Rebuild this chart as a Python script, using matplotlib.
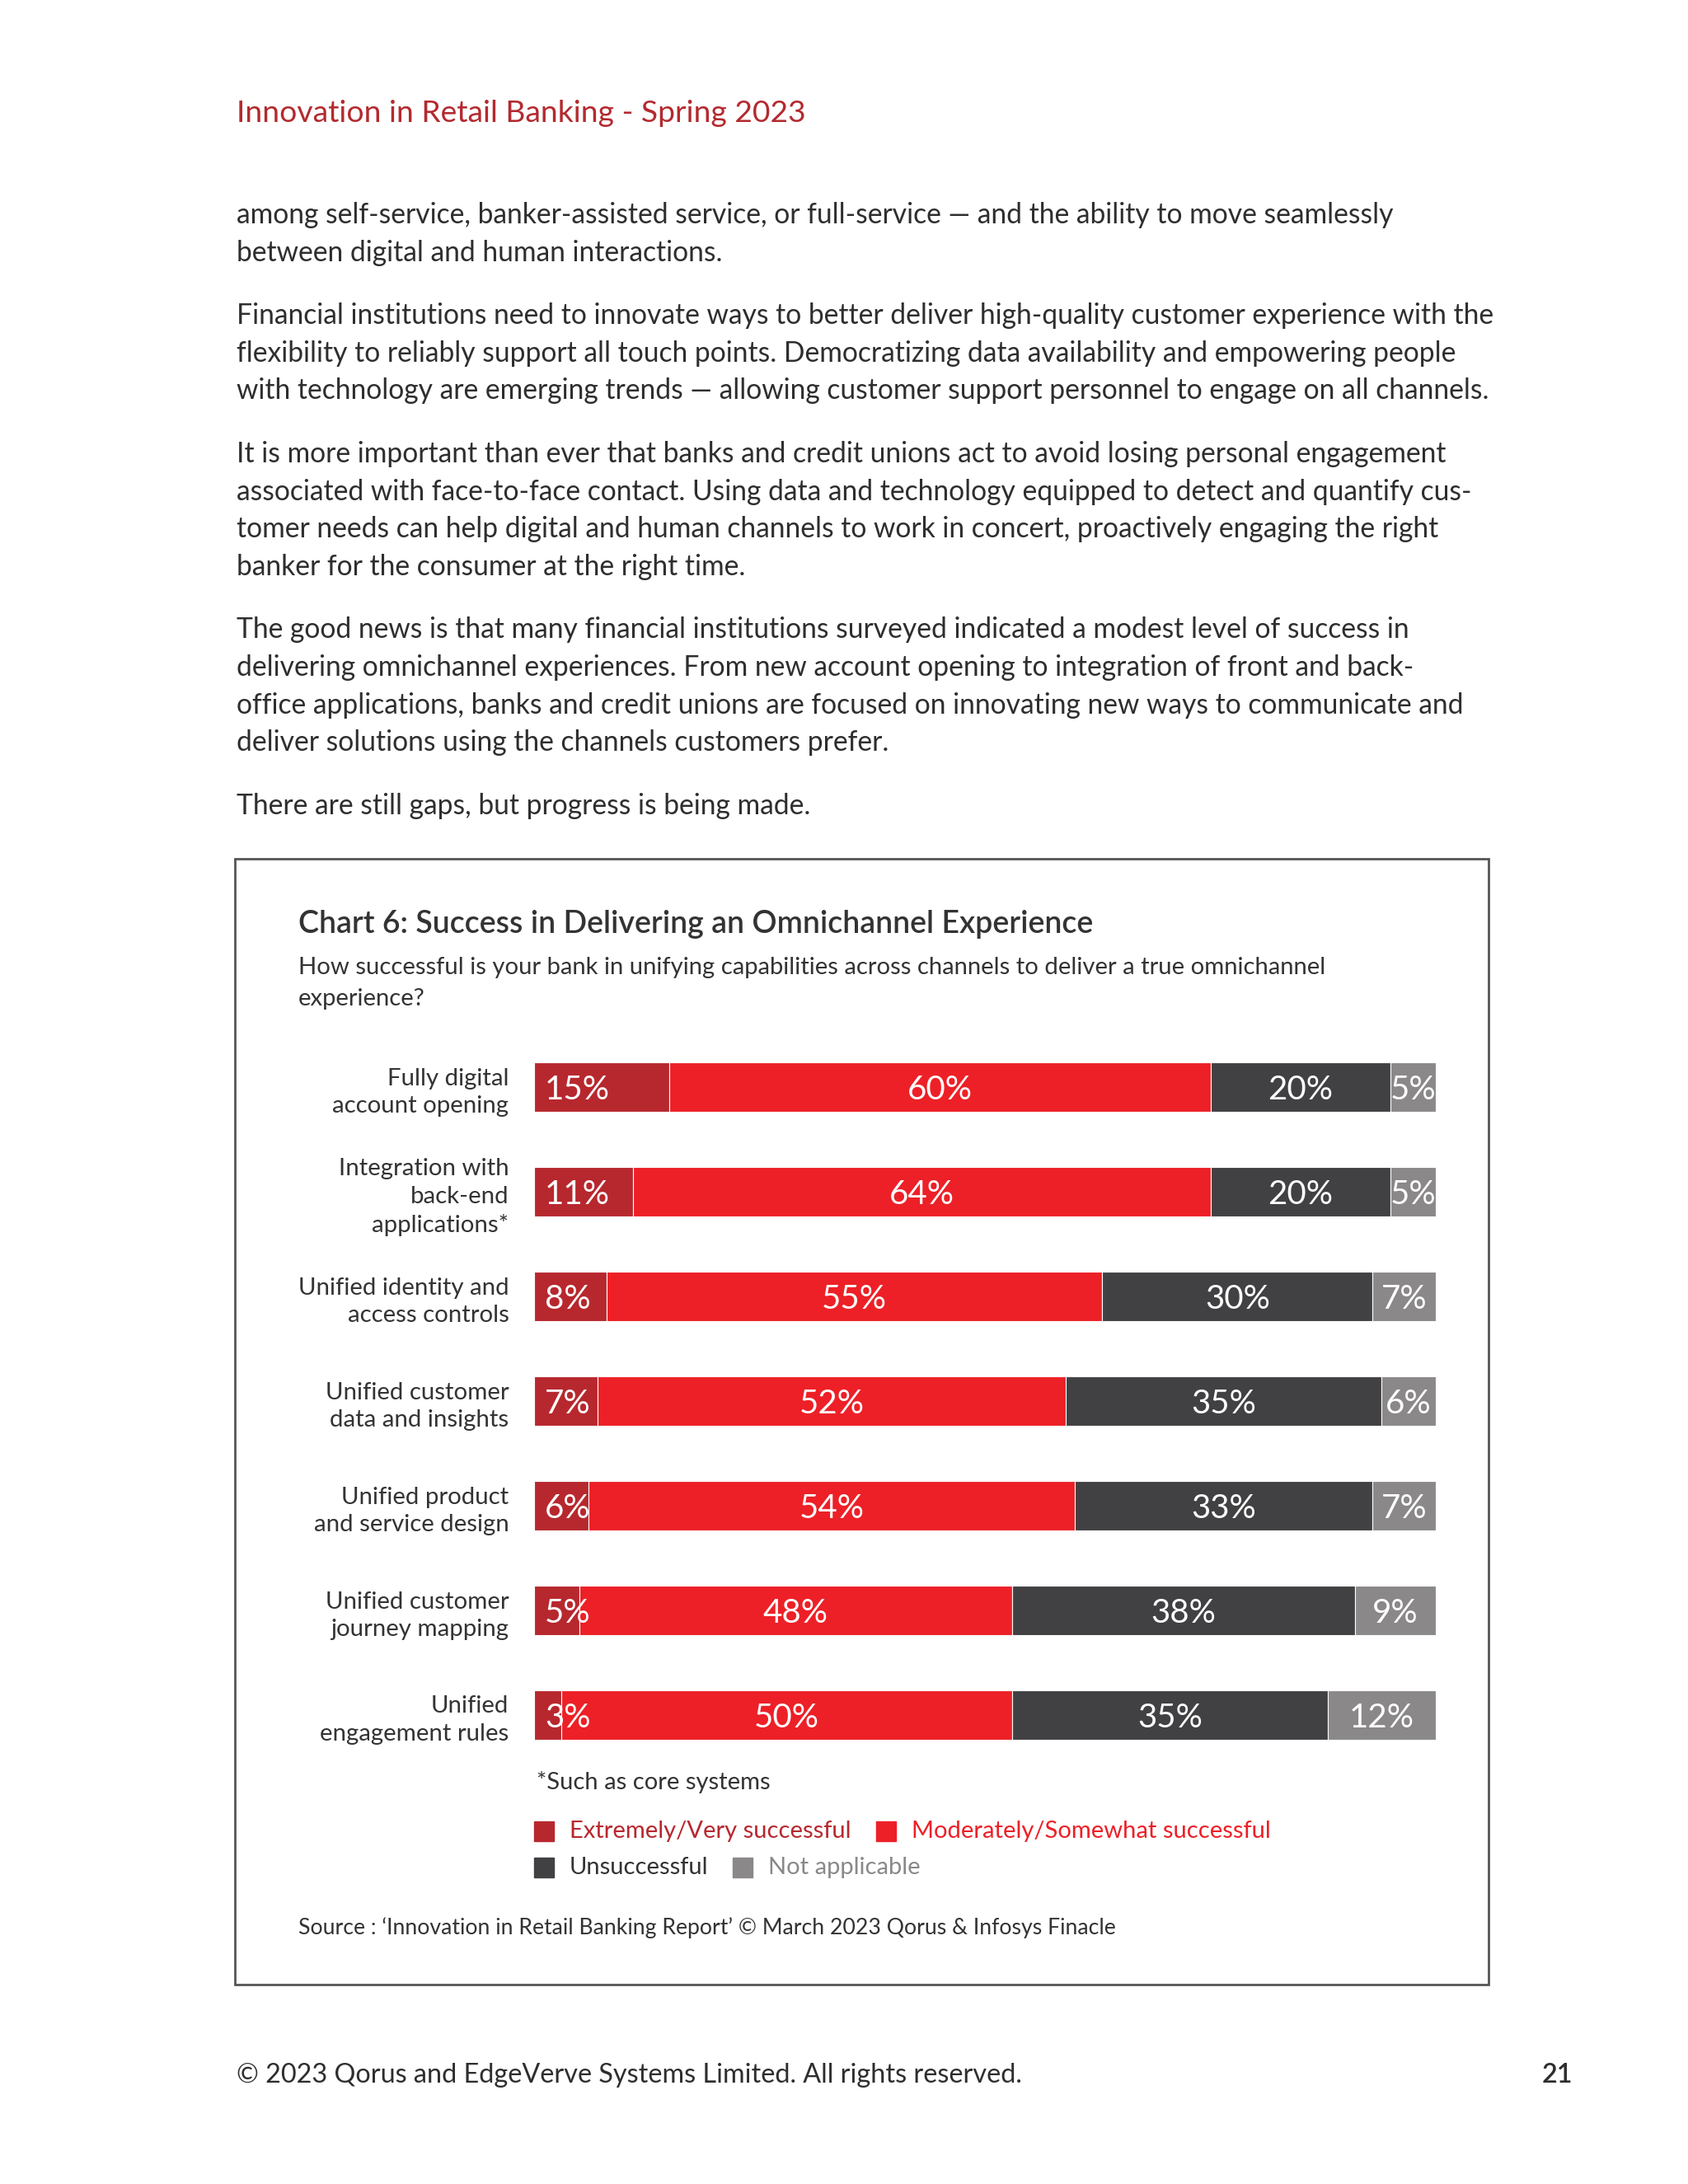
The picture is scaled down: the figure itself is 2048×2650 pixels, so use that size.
import numpy as np
import matplotlib.pyplot as plt
import matplotlib.patches as mpatches

# ---- data
categories = ['Fully digital\naccount opening',
              'Integration with\nback-end\napplications*',
              'Unified identity and\naccess controls',
              'Unified customer\ndata and insights',
              'Unified product\nand service design',
              'Unified customer\njourney mapping',
              'Unified\nengagement rules']
extremely = [15, 11, 8, 7, 6, 5, 3]
moderately = [60, 64, 55, 52, 54, 48, 50]
unsuccessful = [20, 20, 30, 35, 33, 38, 35]
not_applicable = [5, 5, 7, 6, 7, 9, 12]
series_names = ['Extremely/Very successful', 'Moderately/Somewhat successful',
                'Unsuccessful', 'Not applicable']

colors = ['#B7282E', '#ED2027', '#414143', '#8A8889']
legend_txt_colors = ['#B7282E', '#ED2027', '#333333', '#8A8889']

header = 'Innovation in Retail Banking - Spring 2023'
paragraphs = [
    ['among self-service, banker-assisted service, or full-service \u2014 and the ability to move seamlessly',
     'between digital and human interactions.'],
    ['Financial institutions need to innovate ways to better deliver high-quality customer experience with the',
     'flexibility to reliably support all touch points. Democratizing data availability and empowering people',
     'with technology are emerging trends \u2014 allowing customer support personnel to engage on all channels.'],
    ['It is more important than ever that banks and credit unions act to avoid losing personal engagement',
     'associated with face-to-face contact. Using data and technology equipped to detect and quantify cus-',
     'tomer needs can help digital and human channels to work in concert, proactively engaging the right',
     'banker for the consumer at the right time.'],
    ['The good news is that many financial institutions surveyed indicated a modest level of success in',
     'delivering omnichannel experiences. From new account opening to integration of front and back-',
     'office applications, banks and credit unions are focused on innovating new ways to communicate and',
     'deliver solutions using the channels customers prefer.'],
    ['There are still gaps, but progress is being made.'],
]
chart_title = 'Chart 6: Success in Delivering an Omnichannel Experience'
chart_sub = ('How successful is your bank in unifying capabilities across channels to deliver a true omnichannel\n'
             'experience?')
footnote = '*Such as core systems'
source = 'Source : \u2018Innovation in Retail Banking Report\u2019 \u00a9 March 2023 Qorus & Infosys Finacle'
footer = '\u00a9 2023 Qorus and EdgeVerve Systems Limited. All rights reserved.'
page_no = '21'

plt.rcParams['font.family'] = ['Lato', 'DejaVu Sans']

W, H = 2048, 2650
fig = plt.figure(figsize=(W / 100, H / 100), dpi=100)
fig.patch.set_facecolor('white')

def px(x, y):
    return x / W, 1 - y / H

txt = '#2e2e2e'

# ---- page text
fig.text(*px(287, 138), header, color='#B32A2F', fontsize=26.8, va='center')

y = 261
for para in paragraphs:
    for line in para:
        fig.text(*px(287, y), line, color=txt, fontsize=24.2, va='center')
        y += 45.6
    y += 31

# ---- chart box
box = mpatches.Rectangle(px(285, 2408), (1806 - 285) / W, (2408 - 1042) / H,
                         transform=fig.transFigure, fill=False,
                         edgecolor='#555555', lw=2)
fig.add_artist(box)

fig.text(*px(362, 1121), chart_title, color='#333333', fontsize=27,
         fontweight='semibold', va='center')
fig.text(362 / W, 1 - 1161 / H, chart_sub, color='#333333', fontsize=21.1,
         va='top', linespacing=1.55)

# ---- bars
bar_left, bar_right = 648, 1742
top, bottom = 1319 - 63.5, 2081 + 63.5
ax = fig.add_axes([bar_left / W, 1 - bottom / H, (bar_right - bar_left) / W, (bottom - top) / H])
ypos = np.arange(len(categories))
data = [extremely, moderately, unsuccessful, not_applicable]
left = np.zeros(len(categories))
for k, vals in enumerate(data):
    vals = np.array(vals)
    ax.barh(ypos, vals, left=left, height=60 / 127, color=colors[k],
            edgecolor='white', linewidth=0.8)
    for i, v in enumerate(vals):
        if k == 0:
            ax.text(left[i] + 1.2, i + 0.03, f'{v}%', color='white', fontsize=29,
                    va='center', ha='left')
        else:
            ax.text(left[i] + v / 2, i + 0.03, f'{v}%', color='white', fontsize=29,
                    va='center', ha='center')
    left += vals

ax.set_xlim(0, 100)
ax.set_ylim(len(categories) - 0.5, -0.5)
ax.set_yticks(ypos)
ax.set_yticklabels(categories, fontsize=21.2, color='#333333', linespacing=1.36)
ax.tick_params(axis='y', length=0, pad=22)
ax.set_xticks([])
for s in ax.spines.values():
    s.set_visible(False)

# ---- footnote and legend
fig.text(*px(651, 2163), footnote, color='#333333', fontsize=21, va='center')

leg_pos = [(648, 2222), (1063, 2222), (648, 2266), (889, 2266)]
sq = 24
for k, (lx, ly) in enumerate(leg_pos):
    r = mpatches.Rectangle(px(lx, ly + sq / 2), sq / W, sq / H,
                           transform=fig.transFigure, color=colors[k])
    fig.add_artist(r)
    fig.text(*px(lx + 43, ly), series_names[k], color=legend_txt_colors[k],
             fontsize=21, va='center')

fig.text(*px(362, 2339), source, color='#333333', fontsize=19.2, va='center')

# ---- footer
fig.text(*px(287, 2518), footer, color=txt, fontsize=23.3, va='center')
fig.text(*px(1908, 2518), page_no, color=txt, fontsize=23.3, va='center',
         ha='right', fontweight='semibold')

fig.savefig('out.png', dpi=100)
